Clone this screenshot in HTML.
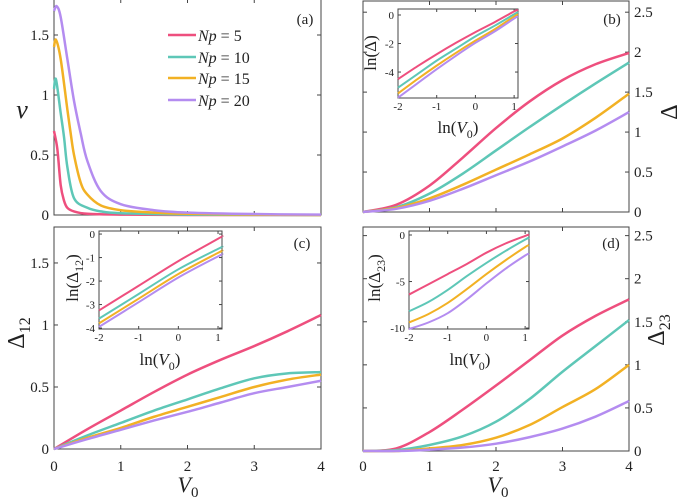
<!DOCTYPE html>
<html><head><meta charset="utf-8"><style>
html,body{margin:0;padding:0;background:#fff}
svg{display:block}
svg text{font-family:"Liberation Serif","Times New Roman",serif}
</style></head><body>
<svg id="fig" width="685" height="498" viewBox="0 0 685 498" xmlns="http://www.w3.org/2000/svg" font-family="Liberation Serif, serif"></svg>
<script>
const colors=["#ee4f7e","#5ec7b7","#f2b124","#b48cf0"];
const npLabels=["5","10","15","20"];
// panel (a)
const aX=[[0,0.05,0.1,0.15,0.2,0.3,0.5,1,2,4],[0,0.03,0.1,0.15,0.2,0.3,0.5,0.7,1,2,4],[0,0.03,0.1,0.2,0.25,0.3,0.4,0.5,0.7,1,1.5,2,3,4],[0,0.04,0.1,0.2,0.3,0.4,0.5,0.7,1,1.5,2,3,4]];
const aPink=[0.70,0.55,0.25,0.12,0.06,0.03,0.01,0.003,0,0];
const aTeal=[1.05,1.13,0.85,0.65,0.4,0.14,0.06,0.03,0.015,0.003,0];
const aOrange=[1.4,1.46,1.3,0.88,0.68,0.5,0.27,0.17,0.08,0.04,0.02,0.01,0.003,0];
const aPurple=[1.7,1.74,1.65,1.3,0.95,0.68,0.45,0.2,0.09,0.04,0.02,0.008,0.003];
// main V0 grid
const v0=[0,0.5,1,1.5,2,2.5,3,3.5,4];
const bPink=[0,0.09,0.33,0.68,1.05,1.38,1.65,1.85,1.99];
const bTeal=[0,0.06,0.23,0.48,0.77,1.06,1.34,1.61,1.87];
const bOrange=[0,0.05,0.17,0.34,0.53,0.72,0.92,1.18,1.48];
const bPurple=[0,0.04,0.14,0.29,0.46,0.63,0.82,1.02,1.25];
const cPink=[0,0.16,0.31,0.46,0.6,0.72,0.83,0.95,1.08];
const cTeal=[0,0.11,0.21,0.31,0.40,0.49,0.57,0.61,0.62];
const cOrange=[0,0.09,0.17,0.26,0.34,0.42,0.5,0.56,0.6];
const cPurple=[0,0.08,0.155,0.23,0.30,0.375,0.45,0.5,0.55];
const dPink=[0,0.03,0.22,0.48,0.76,1.05,1.34,1.57,1.76];
const dTeal=[0,0.01,0.07,0.17,0.34,0.6,0.92,1.22,1.52];
const dOrange=[0,0,0.03,0.07,0.155,0.3,0.51,0.72,1.0];
const dPurple=[0,0,0.015,0.04,0.085,0.16,0.26,0.4,0.58];
// insets (ln V0)
const lnB=[-2,-1.5,-1,-0.5,0,0.5,1,1.1];
const ibPink=[-4.5,-3.6,-2.75,-1.95,-1.2,-0.5,0.25,0.35];
const ibTeal=[-5.1,-4.15,-3.2,-2.35,-1.5,-0.75,0.05,0.2];
const ibOrange=[-5.5,-4.5,-3.55,-2.65,-1.8,-1.0,-0.1,0.05];
const ibPurple=[-5.8,-4.8,-3.8,-2.85,-1.95,-1.15,-0.25,-0.1];
const lnC=[-2,-1,0,1,1.1];
const icPink=[-3.25,-2.2,-1.15,-0.2,-0.1];
const icTeal=[-3.6,-2.55,-1.5,-0.63,-0.55];
const icOrange=[-3.8,-2.75,-1.7,-0.8,-0.72];
const icPurple=[-3.95,-2.9,-1.85,-0.95,-0.87];
const idPink=[-6.4,-5.3,-4.2,-3.1,-1.9,-0.9,-0.1,0.05];
const idTeal=[-8.2,-7.2,-5.9,-4.4,-3.0,-1.7,-0.5,-0.3];
const idOrange=[-9.4,-8.5,-7.3,-5.8,-4.2,-2.7,-1.3,-1.1];
const idPurple=[-10.1,-9.4,-8.4,-6.9,-5.2,-3.6,-2.2,-2.0];
const mainXTicks=[0,1,2,3,4];
const aYTicks=[0,0.5,1,1.5];
const bYTicks=[0,0.5,1,1.5,2,2.5];
const cYTicks=[0,0.5,1,1.5];
const lnXTicks=[-2,-1,0,1];
const ibYTicks=[0,-2,-4];
const icYTicks=[0,-1,-2,-3,-4];
const idYTicks=[0,-5,-10];

const NS="http://www.w3.org/2000/svg";
const svg=document.getElementById('fig');
function el(tag,attrs,parent){const e=document.createElementNS(NS,tag);for(const k in attrs)e.setAttribute(k,attrs[k]);(parent||svg).appendChild(e);return e;}
function pathD(pts){let d="M"+pts[0][0].toFixed(2)+","+pts[0][1].toFixed(2);
 for(let i=0;i<pts.length-1;i++){const p0=pts[Math.max(0,i-1)],p1=pts[i],p2=pts[i+1],p3=pts[Math.min(pts.length-1,i+2)];
  const c1=[p1[0]+(p2[0]-p0[0])/6,p1[1]+(p2[1]-p0[1])/6],c2=[p2[0]-(p3[0]-p1[0])/6,p2[1]-(p3[1]-p1[1])/6];
  d+=" C"+c1[0].toFixed(2)+","+c1[1].toFixed(2)+" "+c2[0].toFixed(2)+","+c2[1].toFixed(2)+" "+p2[0].toFixed(2)+","+p2[1].toFixed(2);}
 return d;}
function axes(name,L,R,T,B,x0,x1,y0,y1){
 const g=el('g',{});
 
 
 const sx=v=>L+(v-x0)/(x1-x0)*(R-L), sy=v=>B-(v-y0)/(y1-y0)*(B-T);
 return {g,sx,sy,L,R,T,B};}
function frame(ax){const r=el('rect',{x:ax.L,y:ax.T,width:ax.R-ax.L,height:ax.B-ax.T,fill:'none',stroke:'#444','stroke-width':1},ax.g);
 }
function ticks(ax,xt,yt,len){
 xt.forEach(v=>{const x=ax.sx(v);el('line',{x1:x,x2:x,y1:ax.B,y2:ax.B-len,stroke:'#444'},ax.g);el('line',{x1:x,x2:x,y1:ax.T,y2:ax.T+len,stroke:'#444'},ax.g);});
 yt.forEach(v=>{const y=ax.sy(v);el('line',{x1:ax.L,x2:ax.L+len,y1:y,y2:y,stroke:'#444'},ax.g);el('line',{x1:ax.R,x2:ax.R-len,y1:y,y2:y,stroke:'#444'},ax.g);});}
function label(ax,x,y,txt,size,anchor,name){const t=el('text',{x:x,y:y,'font-size':size,'text-anchor':anchor||'middle',fill:'#222'},ax.g);t.textContent=txt;
 return t;}
function series(ax,xs,ys,i,w,name){
 const pts=xs.map((x,k)=>[ax.sx(x),ax.sy(ys[k])]);
 const p=el('path',{d:pathD(pts),fill:'none',stroke:colors[i],'stroke-width':w,'stroke-linejoin':'round'},ax.g);
 }

// ---- panel a
const A=axes('panel-a',54,321,-1,215,0,4,0,1.8);
frame(A);ticks(A,mainXTicks,aYTicks,4);
[aPink,aTeal,aOrange,aPurple].forEach((ys,i)=>series(A,aX[i],ys,i,2.5,'line-a-np'+npLabels[i]));
aYTicks.forEach(v=>label(A,A.L-5,A.sy(v)+5,String(v),15,'end','y-tick-label'));
{const t=label(A,22,118,'ν',26,'middle','y-axis-title');t.setAttribute('font-style','italic');}
label(A,305,24,'(a)',15,'middle','panel-label-a');
npLabels.forEach((n,i)=>{const y=[35,57,78,100][i];
 const lg=el('g',{},A.g);
 el('line',{x1:168,x2:196,y1:y,y2:y,stroke:colors[i],'stroke-width':2.5},lg);
 const t=el('text',{x:198,y:y+6,'font-size':16,fill:'#222'},lg);
 t.innerHTML='<tspan font-style="italic">Np</tspan> = '+n;});

// ---- panel b
const Bp=axes('panel-b',363,629,1,212,0,4,0,2.64);
frame(Bp);ticks(Bp,mainXTicks,bYTicks,4);
[bPink,bTeal,bOrange,bPurple].forEach((ys,i)=>series(Bp,v0,ys,i,2.5,'line-b-np'+npLabels[i]));
bYTicks.forEach(v=>label(Bp,Bp.R+5,Bp.sy(v)+5,String(v),15,'start','y-tick-label'));
{const t=label(Bp,671,118,'Δ',24,'middle','y-axis-title');t.setAttribute('transform','rotate(-90 671 112)');}
label(Bp,612,24,'(b)',15,'middle','panel-label-b');
const IB=axes('inset-b',398,518,9,98,-2,1.1,-5.82,0.42);
el('rect',{x:398,y:9,width:120,height:89,fill:'#fff'},IB.g);
frame(IB);ticks(IB,lnXTicks,ibYTicks,3);
[ibPink,ibTeal,ibOrange,ibPurple].forEach((ys,i)=>series(IB,lnB,ys,i,2,'inset-b-line-np'+npLabels[i]));
lnXTicks.forEach(v=>label(IB,IB.sx(v),110,String(v),11,'middle','inset-x-tick-label'));
ibYTicks.forEach(v=>label(IB,IB.L-4,IB.sy(v)+4,String(v),11,'end','inset-y-tick-label'));
{const t=el('text',{x:0,y:0,'font-size':17,'text-anchor':'middle',fill:'#222',transform:'translate(376 53) rotate(-90)'},IB.g);t.textContent='ln(Δ)';}
{const t=el('text',{x:458,y:133,'font-size':17,'text-anchor':'middle',fill:'#222'},IB.g);t.innerHTML='ln(<tspan font-style="italic">V</tspan><tspan font-size="12" dy="5">0</tspan><tspan dy="-5">)</tspan>';}

// ---- panel c
const Cp=axes('panel-c',54,321,227,449,0,4,0,1.79);
frame(Cp);ticks(Cp,mainXTicks,cYTicks,4);
[cPink,cTeal,cOrange,cPurple].forEach((ys,i)=>series(Cp,v0,ys,i,2.5,'line-c-np'+npLabels[i]));
cYTicks.forEach(v=>label(Cp,Cp.L-5,Cp.sy(v)+5,String(v),15,'end','y-tick-label'));
mainXTicks.forEach(v=>label(Cp,Cp.sx(v),471,String(v),15,'middle','x-tick-label'));
{const t=el('text',{x:0,y:0,'font-size':24,'text-anchor':'middle',fill:'#222',transform:'translate(24 333) rotate(-90)'},Cp.g);t.innerHTML='Δ<tspan font-size="16" dy="6">12</tspan>';}
{const t=el('text',{x:188,y:492,'font-size':22,'text-anchor':'middle',fill:'#222'},Cp.g);t.innerHTML='<tspan font-style="italic">V</tspan><tspan font-size="15" dy="5">0</tspan>';}
label(Cp,302,248,'(c)',15,'middle','panel-label-c');
const IC=axes('inset-c',99,222,231,329,-2,1.1,-4.04,0.13);
el('rect',{x:99,y:231,width:123,height:98,fill:'#fff'},IC.g);
frame(IC);ticks(IC,lnXTicks,icYTicks,3);
[icPink,icTeal,icOrange,icPurple].forEach((ys,i)=>series(IC,lnC,ys,i,2,'inset-c-line-np'+npLabels[i]));
lnXTicks.forEach(v=>label(IC,IC.sx(v),341,String(v),11,'middle','inset-x-tick-label'));
icYTicks.forEach(v=>label(IC,IC.L-4,IC.sy(v)+4,String(v),11,'end','inset-y-tick-label'));
{const t=el('text',{x:0,y:0,'font-size':17,'text-anchor':'middle',fill:'#222',transform:'translate(78 278) rotate(-90)'},IC.g);t.innerHTML='ln(Δ<tspan font-size="12" dy="5">12</tspan><tspan dy="-5">)</tspan>';}
{const t=el('text',{x:160,y:365,'font-size':17,'text-anchor':'middle',fill:'#222'},IC.g);t.innerHTML='ln(<tspan font-style="italic">V</tspan><tspan font-size="12" dy="5">0</tspan><tspan dy="-5">)</tspan>';}

// ---- panel d
const Dp=axes('panel-d',363,629,227,451,0,4,0,2.6);
frame(Dp);ticks(Dp,mainXTicks,bYTicks,4);
[dPink,dTeal,dOrange,dPurple].forEach((ys,i)=>series(Dp,v0,ys,i,2.5,'line-d-np'+npLabels[i]));
bYTicks.forEach(v=>label(Dp,Dp.R+5,Dp.sy(v)+5,String(v),15,'start','y-tick-label'));
mainXTicks.forEach(v=>label(Dp,Dp.sx(v),471,String(v),15,'middle','x-tick-label'));
{const t=el('text',{x:0,y:0,'font-size':24,'text-anchor':'middle',fill:'#222',transform:'translate(664 330) rotate(-90)'},Dp.g);t.innerHTML='Δ<tspan font-size="16" dy="6">23</tspan>';}
{const t=el('text',{x:498,y:492,'font-size':22,'text-anchor':'middle',fill:'#222'},Dp.g);t.innerHTML='<tspan font-style="italic">V</tspan><tspan font-size="15" dy="5">0</tspan>';}
label(Dp,611,248,'(d)',15,'middle','panel-label-d');
const ID=axes('inset-d',409,529,231,329,-2,1.1,-10.1,0.43);
el('rect',{x:409,y:231,width:120,height:98,fill:'#fff'},ID.g);
frame(ID);ticks(ID,lnXTicks,idYTicks,3);
[idPink,idTeal,idOrange,idPurple].forEach((ys,i)=>series(ID,lnB,ys,i,2,'inset-d-line-np'+npLabels[i]));
lnXTicks.forEach(v=>label(ID,ID.sx(v),341,String(v),11,'middle','inset-x-tick-label'));
idYTicks.forEach(v=>label(ID,ID.L-4,ID.sy(v)+4,String(v),11,'end','inset-y-tick-label'));
{const t=el('text',{x:0,y:0,'font-size':17,'text-anchor':'middle',fill:'#222',transform:'translate(380 278) rotate(-90)'},ID.g);t.innerHTML='ln(Δ<tspan font-size="12" dy="5">23</tspan><tspan dy="-5">)</tspan>';}
{const t=el('text',{x:470,y:365,'font-size':17,'text-anchor':'middle',fill:'#222'},ID.g);t.innerHTML='ln(<tspan font-style="italic">V</tspan><tspan font-size="12" dy="5">0</tspan><tspan dy="-5">)</tspan>';}
</script>
</body></html>
